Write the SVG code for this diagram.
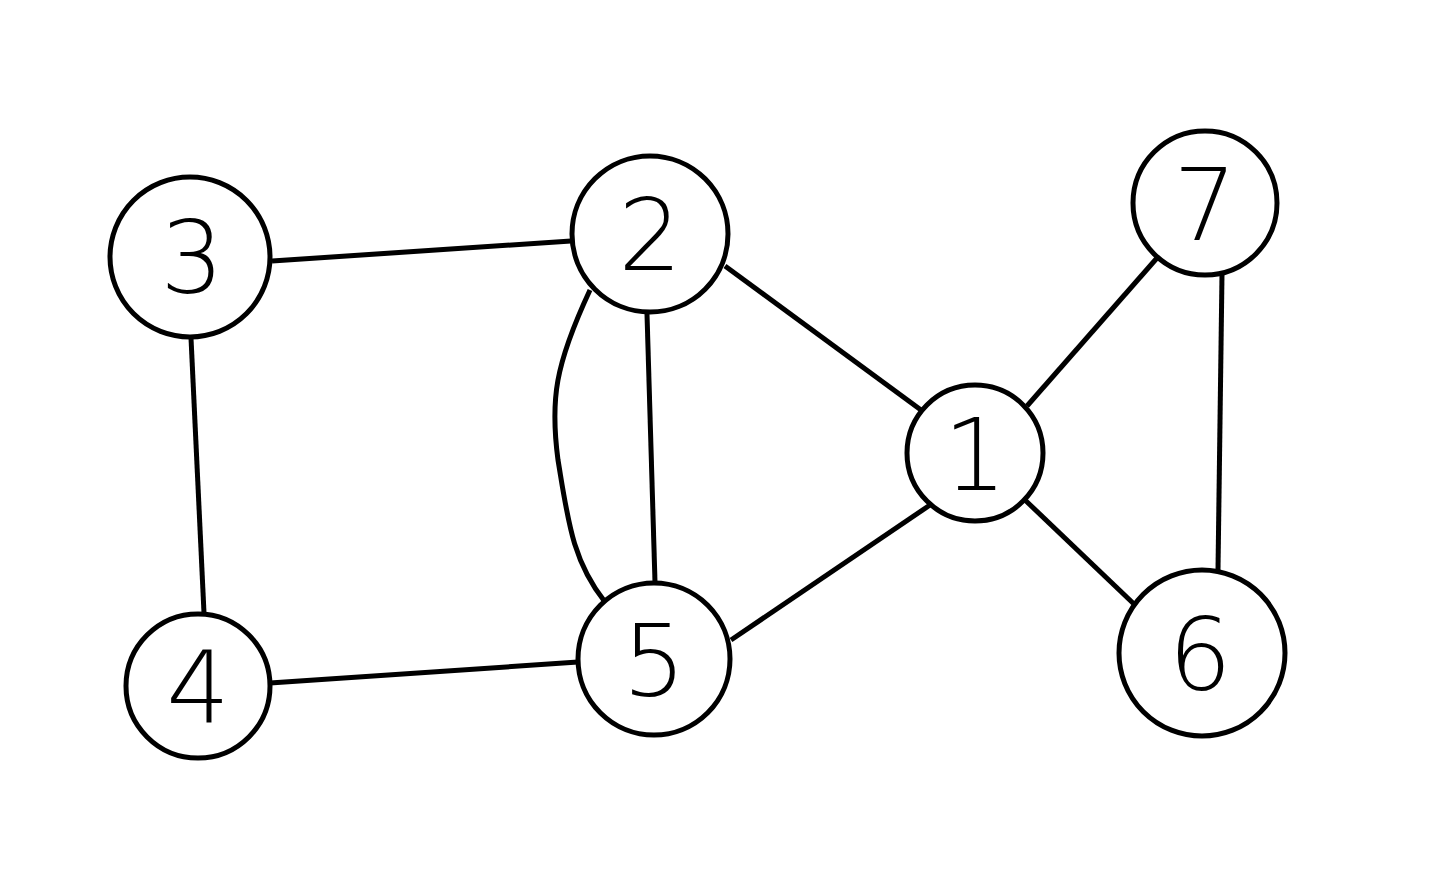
<svg xmlns="http://www.w3.org/2000/svg" width="1441" height="878" viewBox="0 0 1441 878">
<style>
.n{fill:#fff;stroke:#000;stroke-width:5}
.e{fill:none;stroke:#000;stroke-width:5}
text{font-family:"DejaVu Sans",sans-serif;font-size:100px;font-weight:300;text-anchor:middle;fill:#000}
</style>
<rect width="1441" height="878" fill="#fff"/>
<g id="connectors">
<path class="e" d="M272 261L571 241"/>
<path class="e" d="M191 338L204 613"/>
<path class="e" d="M725 266L921 410"/>
<path class="e" d="M647 314L655 582"/>
<path class="e" d="M590 290C555 365 550 400 558 460C568 520 572 560 605 602"/>
<path class="e" d="M1027 406L1157 258"/>
<path class="e" d="M1222 274L1218 570"/>
<path class="e" d="M1025 500L1135 605"/>
<path class="e" d="M930 505L731 640"/>
<path class="e" d="M270 683L578 662"/>
</g>
<g id="n3"><circle class="n" cx="190" cy="257" r="80"/><text x="192" y="293">3</text></g>
<g id="n2"><circle class="n" cx="650" cy="234" r="78"/><text x="650" y="270">2</text></g>
<g id="n7"><circle class="n" cx="1205" cy="203" r="72"/><text x="1205" y="240">7</text></g>
<g id="n1"><circle class="n" cx="975" cy="453" r="68"/><text x="975" y="490">1</text></g>
<g id="n4"><circle class="n" cx="198" cy="686" r="72"/><text x="198" y="722">4</text></g>
<g id="n5"><circle class="n" cx="654" cy="659" r="76"/><text x="654" y="696">5</text></g>
<g id="n6"><circle class="n" cx="1202" cy="653" r="83"/><text x="1200" y="690">6</text></g>
</svg>
